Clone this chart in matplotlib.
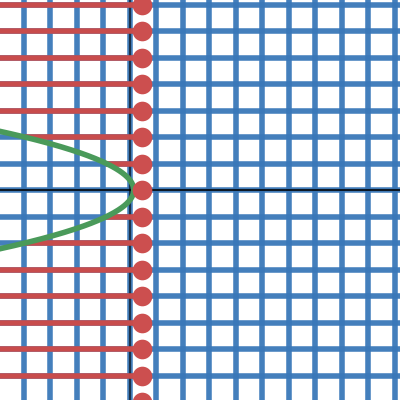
import numpy as np
import matplotlib
matplotlib.use("Agg")
import matplotlib.pyplot as plt

row_values = list(range(-8, 8))
dot_x = 0.45
vertex_x = 0.15
coef = 1.03
xlim = (-4.9, 10.2)
ylim = (-7.92, 7.17)

fig = plt.figure(figsize=(4, 4), dpi=100)
ax = fig.add_axes([0, 0, 1, 1])
ax.set_xlim(*xlim); ax.set_ylim(*ylim)
ax.axis('off')
blue = '#3a78b9'
for v in range(-5, 11):
    ax.axvline(v, color=blue, lw=4, alpha=0.95, zorder=1)
for v in range(-8, 8):
    ax.axhline(v, color=blue, lw=4, alpha=0.95, zorder=1)
ax.axhline(0, color='black', lw=1.5, zorder=2, alpha=0.8)
ax.axvline(0, color='black', lw=1.5, zorder=2, alpha=0.6)
for y in row_values:
    xs = max(vertex_x - coef * y * y, xlim[0])
    ax.plot([xs, dot_x], [y, y], color='#c84c4c', lw=4, zorder=3, solid_capstyle='butt')
ax.scatter([dot_x] * len(row_values), row_values, s=200, color='#cc4f4f', zorder=5, linewidths=0)
yy = np.linspace(-3, 3, 300)
ax.plot(vertex_x - coef * yy**2, yy, color='#4a9a5a', lw=4, zorder=4)
fig.savefig('out.png', dpi=100)
